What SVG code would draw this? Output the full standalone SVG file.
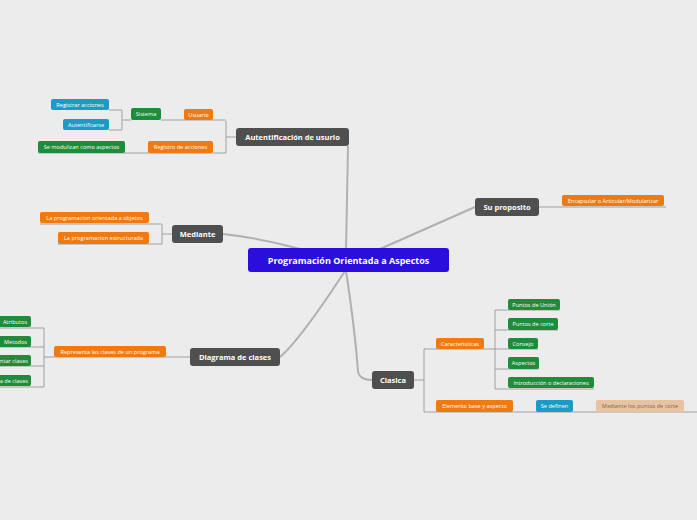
<svg xmlns="http://www.w3.org/2000/svg" width="697" height="520" viewBox="0 0 697 520">
<style>
text{font-family:"Open Sans","DejaVu Sans",sans-serif;fill:#fff}
.m rect{fill:#4f4f4f}
.m text{font-size:7.5px;font-weight:bold}
.s text{font-size:5.6px}
.o{fill:#f07a12}.g{fill:#1f8b3b}.b{fill:#1c9bc6}.p{fill:#e9c3a0}
.c{fill:none;stroke:#a0a0a0;stroke-width:1}
.t{fill:none;stroke:#b0b0b0;stroke-width:2}
</style>
<rect width="697" height="520" fill="#ececec"/>
<g id="connectors">
<path class="t" d="M346 250 L348 146"/>
<path class="t" d="M300 249 Q260 238 223 234"/>
<path class="t" d="M380 249 L475 207"/>
<path class="t" d="M345 271 Q300 340 280 357"/>
<path class="t" d="M346 271 Q355 330 358 372 Q360 380 372 380"/>
<path class="c" d="M236 137 H226 M226 121 V153 M161 120 H226 M38 153 H226 M131 120 H122 M122 110 V130 M109 110 H122 M109 130 H122"/>
<path class="c" d="M172 234 H162 M162 224 V244 M40 224 H162 M58 244 H162"/>
<path class="c" d="M539 207 H666"/>
<path class="c" d="M190 357 H54 M54 357 H44 M44 328 V387 M0 328 H44 M0 347 H44 M0 366 H44 M0 387 H44"/>
<path class="c" d="M414 380 H424 M424 349 V412 M424 349 H484 M424 412 H697 M484 349 H495 M495 310 V389 M495 310 H560 M495 330 H558 M495 349 H538 M495 369 H539 M495 389 H594"/>
</g>
<g id="center"><rect x="248" y="248" width="201" height="24" rx="3" fill="#2a0fdc"/><text x="348.5" y="263.5" font-size="9" font-weight="bold" text-anchor="middle">Programación Orientada a Aspectos</text></g>
<g id="autent" class="m"><rect x="236" y="128" width="113" height="18" rx="3"/><text x="292.5" y="140" text-anchor="middle">Autentificación de usurio</text></g>
<g id="mediante" class="m"><rect x="172" y="225" width="51" height="18" rx="3"/><text x="197.5" y="237" text-anchor="middle">Mediante</text></g>
<g id="proposito" class="m"><rect x="475" y="198" width="64" height="18" rx="3"/><text x="507" y="210" text-anchor="middle">Su proposito</text></g>
<g id="diagrama" class="m"><rect x="190" y="348" width="90" height="18" rx="3"/><text x="235" y="360" text-anchor="middle">Diagrama de clases</text></g>
<g id="clasica" class="m"><rect x="372" y="371" width="42" height="18" rx="3"/><text x="393" y="383" text-anchor="middle">Clasica</text></g>
<g class="s" text-anchor="middle">
<g id="usuario"><rect class="o" x="184" y="109" width="29" height="11" rx="2"/><text x="198.5" y="116.5">Usuario</text></g>
<g id="sistema"><rect class="g" x="131" y="108" width="30" height="12" rx="2"/><text x="146" y="116">Sistema</text></g>
<g id="registrar"><rect class="b" x="51" y="99" width="58" height="11" rx="2"/><text x="80" y="106.5">Registrar acciones</text></g>
<g id="autentificarse"><rect class="b" x="63" y="119" width="46" height="11" rx="2"/><text x="86" y="126.5">Autentificarse</text></g>
<g id="modulizan"><rect class="g" x="38" y="141" width="87" height="12" rx="2"/><text x="81.5" y="149">Se modulizan como aspectos</text></g>
<g id="registro"><rect class="o" x="148" y="141" width="65" height="12" rx="2"/><text x="180.5" y="149">Registro de acciones</text></g>
<g id="poo"><rect class="o" x="40" y="212" width="109" height="11" rx="2"/><text x="94.5" y="219.5">La programacion orientada a objetos</text></g>
<g id="estructurada"><rect class="o" x="58" y="232" width="91" height="12" rx="2"/><text x="103.5" y="240">La programacion estructurada</text></g>
<g id="encapsular"><rect class="o" x="562" y="195" width="102" height="11" rx="2"/><text x="613" y="202.5">Encapsular o Articular/Modularizar</text></g>
<g id="representa"><rect class="o" x="54" y="346" width="112" height="11" rx="2"/><text x="110" y="353.5">Representa las clases de un programa</text></g>
<g id="atributos"><rect class="g" x="-4" y="316" width="35" height="11" rx="2"/><text x="15" y="323.5">Atributos</text></g>
<g id="metodos"><rect class="g" x="-4" y="336" width="35" height="11" rx="2"/><text x="15.5" y="343.5">Metodos</text></g>
<g id="clases1"><rect class="g" x="-40" y="355" width="71" height="11" rx="2"/><text x="28" y="362.5" text-anchor="end">Implementar clases</text></g>
<g id="clases2"><rect class="g" x="-40" y="375" width="71" height="11" rx="2"/><text x="28" y="382.5" text-anchor="end">Jerarquia de clases</text></g>
<g id="caracteristicas"><rect class="o" x="436" y="338" width="48" height="11" rx="2"/><text x="460" y="345.5">Caracteristicas</text></g>
<g id="union"><rect class="g" x="508" y="299" width="52" height="11" rx="2"/><text x="534" y="306.5">Puntos de Unión</text></g>
<g id="corte"><rect class="g" x="508" y="318" width="50" height="12" rx="2"/><text x="533" y="326">Puntos de corte</text></g>
<g id="consejo"><rect class="g" x="508" y="338" width="30" height="11" rx="2"/><text x="523" y="345.5">Consejo</text></g>
<g id="aspectos"><rect class="g" x="508" y="357" width="31" height="12" rx="2"/><text x="523.5" y="365">Aspectos</text></g>
<g id="introduccion"><rect class="g" x="508" y="377" width="86" height="11" rx="2"/><text x="551" y="384.5">Introducción o declaraciones</text></g>
<g id="elemento"><rect class="o" x="436" y="400" width="77" height="12" rx="2"/><text x="474.5" y="408">Elemento base y aspecto</text></g>
<g id="sedefinen"><rect class="b" x="536" y="400" width="37" height="12" rx="2"/><text x="554.5" y="408">Se definen</text></g>
<g id="mediantepuntos"><rect class="p" x="596" y="400" width="88" height="12" rx="2"/><text x="640" y="408" style="fill:#7a6a5a">Mediante los puntos de corte</text></g>
</g>
</svg>
